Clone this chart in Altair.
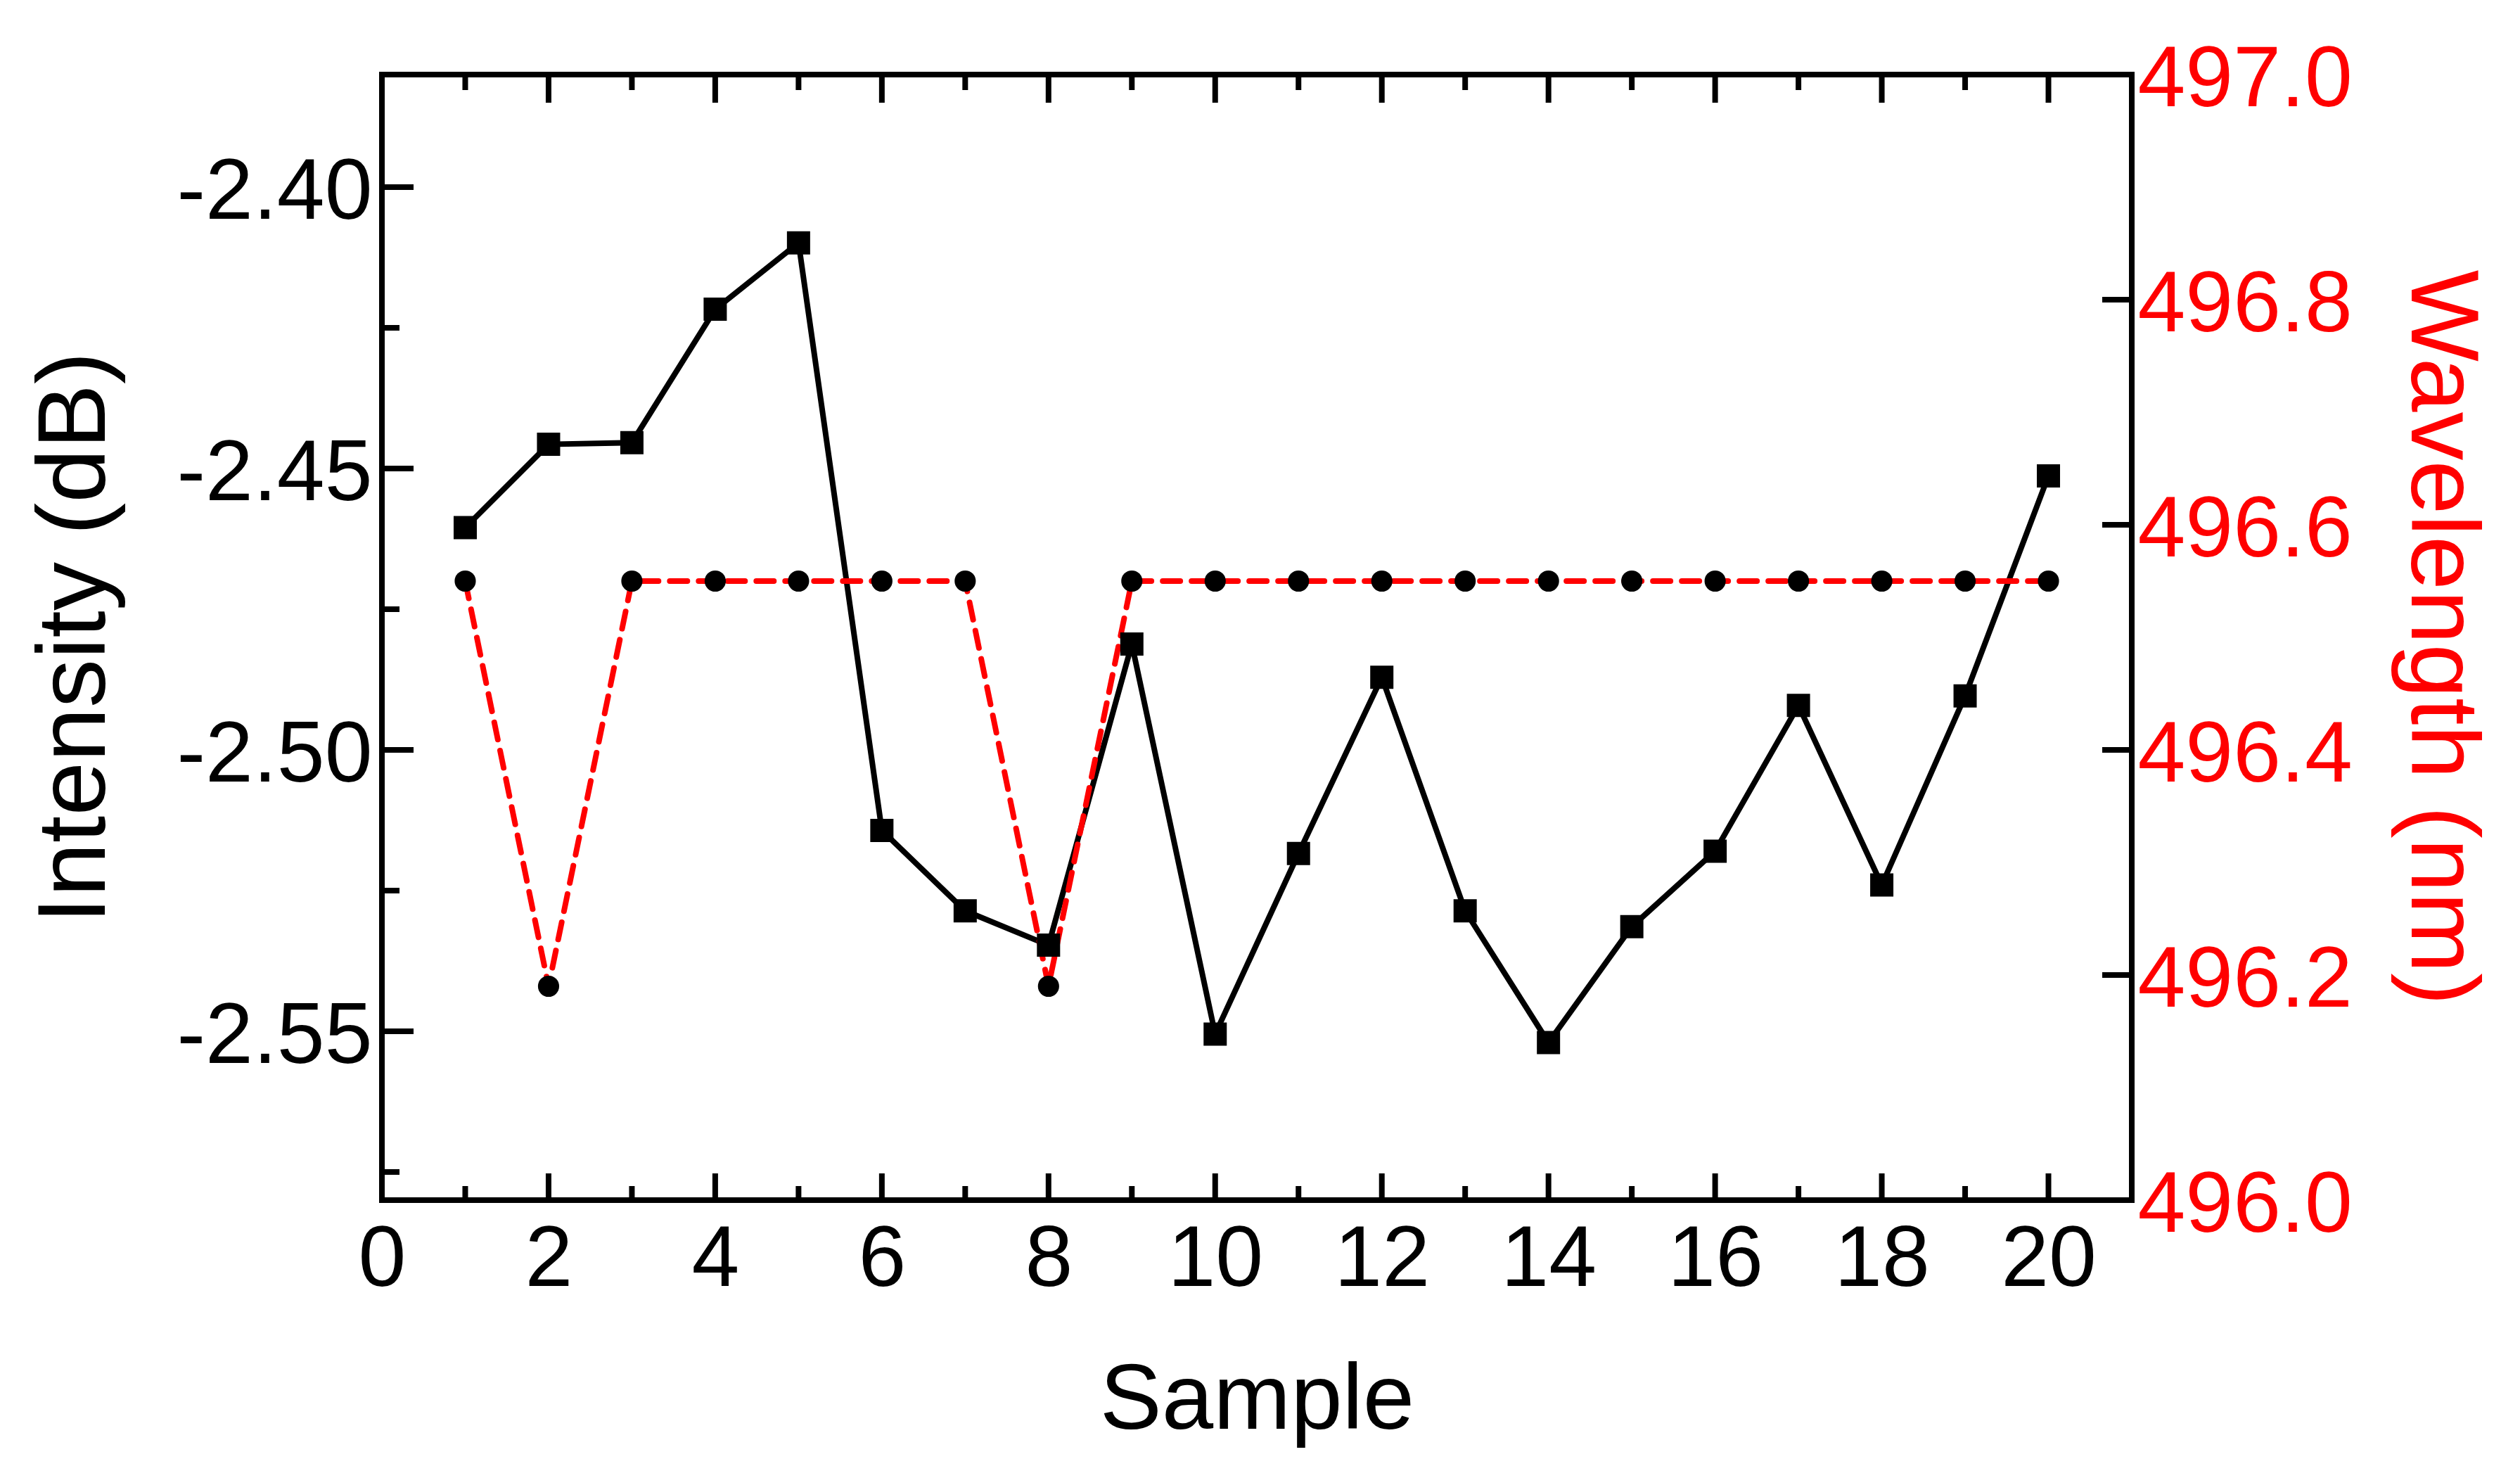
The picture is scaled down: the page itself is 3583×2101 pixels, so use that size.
import altair as alt
import pandas as pd

# ---- data ----
samples = list(range(1, 21))
intensity = [-2.4605, -2.4457, -2.4454, -2.4217, -2.4099, -2.5143, -2.5286, -2.5347,
             -2.4812, -2.5505, -2.5184, -2.4871, -2.5286, -2.5520, -2.5314, -2.5180,
             -2.4921, -2.5240, -2.4904, -2.4513]
wavelength = [496.55, 496.19, 496.55, 496.55, 496.55, 496.55, 496.55, 496.19,
              496.55, 496.55, 496.55, 496.55, 496.55, 496.55, 496.55, 496.55,
              496.55, 496.55, 496.55, 496.55]

x_label_values = [0, 2, 4, 6, 8, 10, 12, 14, 16, 18, 20]
x_major_ticks = [2, 4, 6, 8, 10, 12, 14, 16, 18, 20]
x_minor_ticks = [1, 3, 5, 7, 9, 11, 13, 15, 17, 19]
left_major_ticks = [-2.40, -2.45, -2.50, -2.55]
left_minor_ticks = [-2.425, -2.475, -2.525, -2.575]
right_label_values = [496.0, 496.2, 496.4, 496.6, 496.8, 497.0]
right_ticks = [496.2, 496.4, 496.6, 496.8]

W, H = 2488, 1600
FONT = "Liberation Sans"
RED = "#ff0000"

df_i = pd.DataFrame({"sample": samples, "intensity": intensity})
df_w = pd.DataFrame({"sample": samples, "wavelength": wavelength})

x_scale = alt.Scale(domain=[0, 21], nice=False, zero=False)
yl_scale = alt.Scale(domain=[-2.58, -2.38], nice=False, zero=False)
yr_scale = alt.Scale(domain=[496.0, 497.0], nice=False, zero=False)

x_axis = alt.Axis(
    values=x_label_values, format="d", ticks=False, domain=False, grid=False,
    labelPadding=25, labelFontSize=122, labelFont=FONT, labelColor="black",
    labelFlush=False, labelOverlap=False, labelLimit=2000,
    title="Sample", titleFont=FONT, titleFontSize=132, titleFontWeight="normal",
    titleColor="black", titleX=W / 2, titleY=324, titleAlign="center",
    titleBaseline="alphabetic",
)

left_axis = alt.Axis(
    orient="left", values=left_major_ticks,
    labelExpr="'-' + format(abs(datum.value), '.2f')",
    ticks=False, domain=False, grid=False,
    labelPadding=14, labelOffset=7, labelFontSize=122, labelFont=FONT,
    labelColor="black", labelOverlap=False, labelFlush=False, labelLimit=2000,
    title="Intensity (dB)", titleFont=FONT, titleFontSize=138, titleFontWeight="normal",
    titleColor="black", titleX=-395, titleY=H / 2, titleAngle=270,
    titleAlign="center", titleBaseline="alphabetic",
)

right_axis = alt.Axis(
    orient="right", values=right_label_values, format=".1f",
    ticks=False, domain=False, grid=False,
    labelPadding=8, labelOffset=7, labelFontSize=122, labelFont=FONT,
    labelColor=RED, labelOverlap=False, labelFlush=False, labelLimit=2000,
    title="Wavelength (nm)", titleFont=FONT, titleFontSize=138, titleFontWeight="normal",
    titleColor=RED, titleX=397, titleY=H / 2, titleAngle=90,
    titleAlign="center", titleBaseline="alphabetic",
)


def X(field):
    return alt.X(field, scale=x_scale, axis=x_axis)


def y_rules(values, x0, x1, scale):
    d = pd.DataFrame({"sample": [0] * len(values), "v": values})
    return alt.Chart(d).mark_rule(color="black", strokeWidth=8).encode(
        y=alt.Y("v:Q", scale=scale, axis=None),
        x=alt.value(x0), x2=alt.value(x1),
    )


def x_rules(values, y0, y1):
    d = pd.DataFrame({"sample": values})
    return alt.Chart(d).mark_rule(color="black", strokeWidth=8).encode(
        x=X("sample:Q"),
        y=alt.value(y0), y2=alt.value(y1),
    )


# intensity (left axis)
i_line = alt.Chart(df_i).mark_line(color="black", strokeWidth=8).encode(
    x=X("sample:Q"),
    y=alt.Y("intensity:Q", scale=yl_scale, axis=left_axis),
)
i_pts = alt.Chart(df_i).mark_point(
    shape="square", filled=True, size=1089, color="black", opacity=1, strokeWidth=0
).encode(
    x=X("sample:Q"),
    y=alt.Y("intensity:Q", scale=yl_scale, axis=None),
)

# wavelength (right axis)
w_line = alt.Chart(df_w).mark_line(
    color=RED, strokeWidth=8, strokeDash=[25, 16], strokeCap="round"
).encode(
    x=X("sample:Q"),
    y=alt.Y("wavelength:Q", scale=yr_scale, axis=right_axis),
)
w_pts = alt.Chart(df_w).mark_circle(size=908, color="black", opacity=1).encode(
    x=X("sample:Q"),
    y=alt.Y("wavelength:Q", scale=yr_scale, axis=None),
)

# inward tick marks
left_major = y_rules(left_major_ticks, 0, 45, yl_scale)
left_minor = y_rules(left_minor_ticks, 0, 25, yl_scale)
right_major = y_rules(right_ticks, W - 42, W, yr_scale)
bot_major = x_rules(x_major_ticks, H, H - 38)
bot_minor = x_rules(x_minor_ticks, H, H - 20)
top_major = x_rules(x_major_ticks, 0, 40)
top_minor = x_rules(x_minor_ticks, 0, 22)

chart = (
    alt.layer(i_line, w_line, i_pts, w_pts,
              left_major, left_minor, right_major,
              bot_major, bot_minor, top_major, top_minor)
    .resolve_scale(y="independent")
    .properties(
        width=W, height=H,
        autosize=alt.AutoSizeParams(type="none"),
        padding={"left": 535, "top": 98, "right": 544, "bottom": 387},
        background="white",
    )
    .configure_view(stroke="black", strokeWidth=8)
)

chart.save("out.html", embed_options={"renderer": "svg", "actions": False})
